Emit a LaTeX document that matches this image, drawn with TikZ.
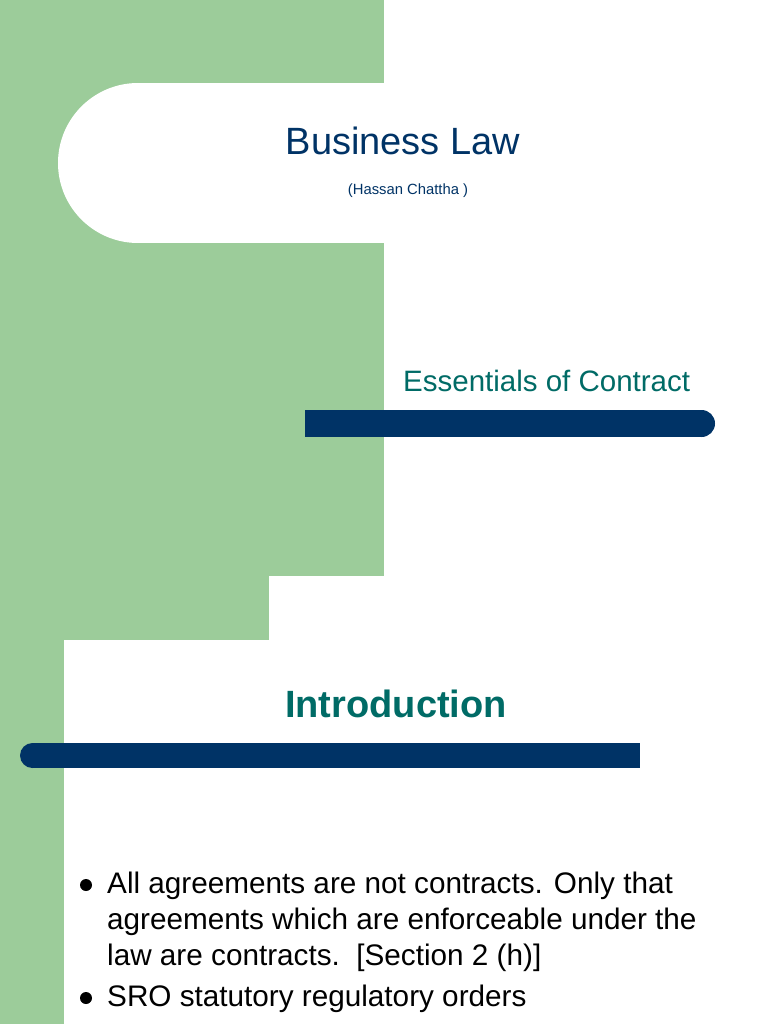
\documentclass[tikz,border=0pt]{standalone}
\usepackage{fontspec}
\setmainfont{Liberation Sans}
\definecolor{gr}{HTML}{9CCC9A}
\definecolor{navy}{HTML}{003366}
\definecolor{teal2}{HTML}{006B66}
\begin{document}
\begin{tikzpicture}[x=1pt,y=-1pt,
  txt/.style={inner sep=0pt,anchor=base west},
  bul/.style={txt,font=\fontsize{29.7}{36}\selectfont,text=black}]
\useasboundingbox (0,0) rectangle (768,1024);
\fill[white] (0,0) rectangle (768,1024);
% slide 1
\fill[gr] (0,0) rectangle (384,576);
\fill[white] (138,83) rectangle (384,243);
\fill[white] (138,163) circle[radius=80pt];
\fill[navy] (305,410) rectangle (701.5,437);
\fill[navy] (701.5,423.5) circle[radius=13.5pt];
\node[txt,anchor=base,text=navy,font=\fontsize{38}{42}\selectfont] (t1) at (403,155) {Business Law};
\node[txt,anchor=base,text=navy,font=\fontsize{14.8}{16}\selectfont] (t2) at (408,195) {(Hassan Chattha )};
\node[txt,text=teal2,font=\fontsize{29.5}{32}\selectfont] (t3) at (403,391) {Essentials of Contract};
% slide 2
\fill[gr] (0,576) rectangle (269,640);
\fill[gr] (0,640) rectangle (64,1024);
\fill[white] (84,640) rectangle (269,1024);
\fill[white] (64,660) rectangle (269,1024);
\fill[white] (84,660) circle[radius=20pt];
\fill[navy] (32.5,743) rectangle (640,768);
\fill[navy] (32.5,755.5) circle[radius=12.5pt];
\node[txt,anchor=base,text=teal2,font=\fontsize{38}{42}\selectfont\bfseries] (t4) at (396,717) {Introduction};
\fill[black] (86,885) circle[radius=6pt];
\node[bul] (l1) at (107,893) {All agreements are not contracts. Only that};
\node[bul] (l2) at (107,929) {agreements which are enforceable under the};
\node[bul] (l3) at (107,965) {law are contracts.\ \ [Section 2 (h)]};
\fill[black] (86,998) circle[radius=6pt];
\node[bul] (l4) at (107,1006) {SRO statutory regulatory orders};
\end{tikzpicture}
\end{document}
